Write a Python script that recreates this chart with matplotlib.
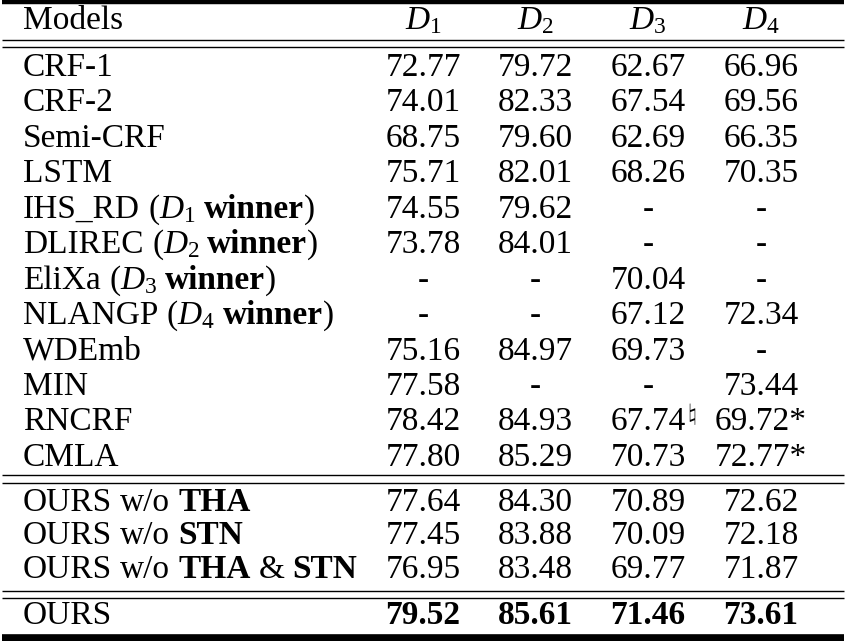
import numpy as np
import matplotlib
matplotlib.use("Agg")
import matplotlib.pyplot as plt

plt.rcParams["font.family"] = ["Liberation Serif", "DejaVu Serif"]
plt.rcParams["mathtext.fontset"] = "custom"
plt.rcParams["mathtext.rm"] = "Liberation Serif"
plt.rcParams["mathtext.it"] = "Liberation Serif:italic"
plt.rcParams["mathtext.bf"] = "Liberation Serif:bold"

# table content
headers = ["Models", "$D_1$", "$D_2$", "$D_3$", "$D_4$"]
models_top = [
    "CRF-1", "CRF-2", "Semi-CRF", "LSTM",
    "IHS_RD ($D_1$ **winner**)",
    "DLIREC ($D_2$ **winner**)",
    "EliXa ($D_3$ **winner**)",
    "NLANGP ($D_4$ **winner**)",
    "WDEmb", "MIN", "RNCRF", "CMLA",
]
models_abl = ["OURS w/o **THA**", "OURS w/o **STN**", "OURS w/o **THA** & **STN**"]
models_ours = ["OURS"]

nan = np.nan
d1 = [72.77, 74.01, 68.75, 75.71, 74.55, 73.78, nan, nan, 75.16, 77.58, 78.42, 77.80,
      77.64, 77.45, 76.95, 79.52]
d2 = [79.72, 82.33, 79.60, 82.01, 79.62, 84.01, nan, nan, 84.97, nan, 84.93, 85.29,
      84.30, 83.88, 83.48, 85.61]
d3 = [62.67, 67.54, 62.69, 68.26, nan, nan, 70.04, 67.12, 69.73, nan, 67.74, 70.73,
      70.89, 70.09, 69.77, 71.46]
d4 = [66.96, 69.56, 66.35, 70.35, nan, nan, nan, 72.34, nan, 73.44, 69.72, 72.77,
      72.62, 72.18, 71.87, 73.61]
# footnote marks: (row, column) -> mark
marks = {(10, 2): r"$^\natural$", (10, 3): "*", (11, 3): "*"}

FS = 24
W, H = 846, 641

fig = plt.figure(figsize=(W / 100, H / 100), dpi=100)
ax = fig.add_axes([0, 0, 1, 1])
ax.set_xlim(0, W)
ax.set_ylim(H, 0)
ax.axis("off")
fig.canvas.draw()
renderer = fig.canvas.get_renderer()

x_name = 23
col_x = [423, 535, 648, 761]
space = 8


def draw_label(x, y, label, bold_all=False):
    # split on ** to toggle bold, then draw word by word
    parts = label.split("**")
    for i, part in enumerate(parts):
        weight = "bold" if (i % 2 == 1 or bold_all) else "normal"
        words = part.split(" ")
        for j, w in enumerate(words):
            if w == "":
                if j > 0:
                    x += space
                continue
            if j > 0:
                x += space
            t = ax.text(x, y, w, fontsize=FS, fontweight=weight, ha="left", va="baseline")
            x += t.get_window_extent(renderer).width


def hrule(y, lw):
    ax.plot([2, 844], [y, y], color="black", lw=lw, solid_capstyle="butt")


def draw_row(y, idx, label, bold=False):
    draw_label(x_name, y, label)
    for c, col in enumerate([d1, d2, d3, d4]):
        v = col[idx]
        if np.isnan(v):
            ax.text(col_x[c], y, "-", fontsize=FS, ha="center", va="baseline")
            continue
        s = f"{v:.2f}"
        mk = marks.get((idx, c))
        if mk == "*":
            s = s + "*"
        t = ax.text(col_x[c], y, s, fontsize=FS, ha="center", va="baseline",
                    fontweight="bold" if bold else "normal")
        if mk is not None and mk != "*":
            bb = t.get_window_extent(renderer)
            ax.text(bb.x1 + 1, y, mk, fontsize=FS, ha="left", va="baseline")


# rules
hrule(2, 3.2)
hrule(40, 1.0)
hrule(47, 1.0)
hrule(475, 1.0)
hrule(483, 1.0)
hrule(591, 1.0)
hrule(598, 1.0)
hrule(637.5, 5.5)

# header
base = 11
draw_label(x_name, 18 + base, headers[0])
for c in range(4):
    ax.text(col_x[c], 18 + base, headers[c + 1], fontsize=FS, ha="center", va="baseline")

row_idx = 0
for i, m in enumerate(models_top):
    draw_row(65 + 35.45 * i + base, row_idx, m)
    row_idx += 1
for i, m in enumerate(models_abl):
    draw_row(500 + 33.3 * i + base, row_idx, m)
    row_idx += 1
for m in models_ours:
    draw_row(613 + base, row_idx, m, bold=True)
    row_idx += 1

fig.savefig("out.png", dpi=100)
